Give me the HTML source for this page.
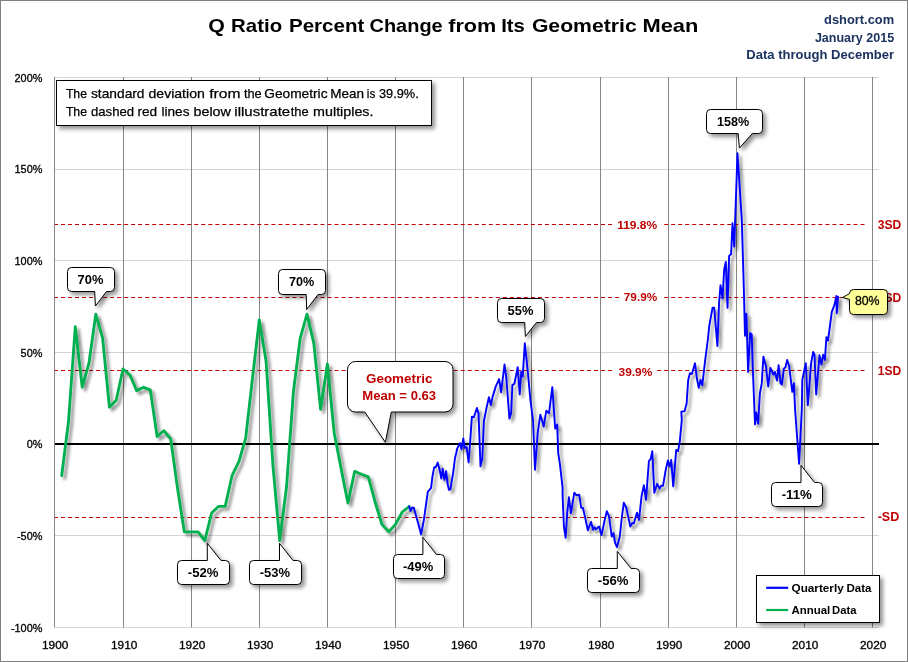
<!DOCTYPE html>
<html lang="en"><head><meta charset="utf-8"><title>Q Ratio Percent Change from Its Geometric Mean</title>
<style>
html,body{margin:0;padding:0;background:#fff;}
body{width:908px;height:662px;overflow:hidden;}
svg{display:block;font-family:"Liberation Sans",Arial,sans-serif;}
.ax{font-size:10.9px;fill:#000;stroke:#000;stroke-width:0.3px;}
.b{font-weight:bold;}
.ttl{font-size:19px;font-weight:bold;fill:#000;}
.src{font-size:12.5px;font-weight:bold;fill:#1b3360;}
.red{fill:#c00000;font-weight:bold;}
.co{font-size:12.5px;font-weight:bold;fill:#000;}
.note{font-size:13px;fill:#000;stroke:#000;stroke-width:0.25px;}
.lg{font-size:11.3px;font-weight:bold;fill:#000;}
</style></head><body>
<svg width="908" height="662" viewBox="0 0 908 662">
<defs>
<filter id="sh" x="-5%" y="-5%" width="115%" height="115%"><feGaussianBlur in="SourceAlpha" stdDeviation="1.5"/><feOffset dx="2.6" dy="2.6"/><feComponentTransfer><feFuncA type="linear" slope="0.45"/></feComponentTransfer><feMerge><feMergeNode/><feMergeNode in="SourceGraphic"/></feMerge></filter>
<filter id="shb" x="-20%" y="-20%" width="150%" height="150%"><feGaussianBlur in="SourceAlpha" stdDeviation="2"/><feOffset dx="2.8" dy="2.8"/><feComponentTransfer><feFuncA type="linear" slope="0.43"/></feComponentTransfer><feMerge><feMergeNode/><feMergeNode in="SourceGraphic"/></feMerge></filter>
</defs>
<rect x="0" y="0" width="908" height="662" fill="#fff"/>
<rect x="0.5" y="0.5" width="907" height="661" fill="none" stroke="#808080" stroke-width="1"/>

<line x1="55" y1="77.5" x2="878.5" y2="77.5" stroke="#d4d4d4" stroke-width="1"/>
<line x1="55" y1="169.5" x2="878.5" y2="169.5" stroke="#d4d4d4" stroke-width="1"/>
<line x1="55" y1="260.5" x2="878.5" y2="260.5" stroke="#d4d4d4" stroke-width="1"/>
<line x1="55" y1="352.5" x2="878.5" y2="352.5" stroke="#d4d4d4" stroke-width="1"/>
<line x1="55" y1="535.5" x2="878.5" y2="535.5" stroke="#d4d4d4" stroke-width="1"/>
<line x1="55" y1="627.5" x2="878.5" y2="627.5" stroke="#d4d4d4" stroke-width="1"/>
<line x1="54.5" y1="77" x2="54.5" y2="627.5" stroke="#868686" stroke-width="1"/>
<line x1="123.5" y1="77" x2="123.5" y2="627.5" stroke="#868686" stroke-width="1"/>
<line x1="191.5" y1="77" x2="191.5" y2="627.5" stroke="#868686" stroke-width="1"/>
<line x1="259.5" y1="77" x2="259.5" y2="627.5" stroke="#868686" stroke-width="1"/>
<line x1="327.5" y1="77" x2="327.5" y2="627.5" stroke="#868686" stroke-width="1"/>
<line x1="395.5" y1="77" x2="395.5" y2="627.5" stroke="#868686" stroke-width="1"/>
<line x1="463.5" y1="77" x2="463.5" y2="627.5" stroke="#868686" stroke-width="1"/>
<line x1="531.5" y1="77" x2="531.5" y2="627.5" stroke="#868686" stroke-width="1"/>
<line x1="600.5" y1="77" x2="600.5" y2="627.5" stroke="#868686" stroke-width="1"/>
<line x1="668.5" y1="77" x2="668.5" y2="627.5" stroke="#868686" stroke-width="1"/>
<line x1="736.5" y1="77" x2="736.5" y2="627.5" stroke="#868686" stroke-width="1"/>
<line x1="804.5" y1="77" x2="804.5" y2="627.5" stroke="#868686" stroke-width="1"/>
<line x1="872.5" y1="77" x2="872.5" y2="627.5" stroke="#868686" stroke-width="1"/>
<line x1="55" y1="444" x2="879" y2="444" stroke="#000" stroke-width="2"/>
<line x1="55" y1="224.5" x2="865" y2="224.5" stroke="#c00000" stroke-width="1" stroke-dasharray="4 3.013" stroke-dashoffset="1"/>
<line x1="55" y1="297.5" x2="865" y2="297.5" stroke="#c00000" stroke-width="1" stroke-dasharray="4 3.013" stroke-dashoffset="1"/>
<line x1="55" y1="370.5" x2="865" y2="370.5" stroke="#c00000" stroke-width="1" stroke-dasharray="4 3.013" stroke-dashoffset="1"/>
<line x1="55" y1="517.5" x2="865" y2="517.5" stroke="#c00000" stroke-width="1" stroke-dasharray="4 3.013" stroke-dashoffset="1"/>
<text x="42.4" y="82.0" text-anchor="end" class="ax">200%</text>
<text x="42.4" y="173.0" text-anchor="end" class="ax">150%</text>
<text x="42.4" y="265.0" text-anchor="end" class="ax">100%</text>
<text x="42.4" y="357.0" text-anchor="end" class="ax">50%</text>
<text x="42.4" y="448.0" text-anchor="end" class="ax">0%</text>
<text x="42.4" y="540.1" text-anchor="end" class="ax">-50%</text>
<text x="42.4" y="632.1" text-anchor="end" class="ax">-100%</text>
<text x="55.2" y="648.8" textLength="26.4" lengthAdjust="spacingAndGlyphs" text-anchor="middle" class="ax">1900</text>
<text x="124.2" y="648.8" textLength="26.4" lengthAdjust="spacingAndGlyphs" text-anchor="middle" class="ax">1910</text>
<text x="192.2" y="648.8" textLength="26.4" lengthAdjust="spacingAndGlyphs" text-anchor="middle" class="ax">1920</text>
<text x="260.2" y="648.8" textLength="26.4" lengthAdjust="spacingAndGlyphs" text-anchor="middle" class="ax">1930</text>
<text x="328.2" y="648.8" textLength="26.4" lengthAdjust="spacingAndGlyphs" text-anchor="middle" class="ax">1940</text>
<text x="396.2" y="648.8" textLength="26.4" lengthAdjust="spacingAndGlyphs" text-anchor="middle" class="ax">1950</text>
<text x="464.2" y="648.8" textLength="26.4" lengthAdjust="spacingAndGlyphs" text-anchor="middle" class="ax">1960</text>
<text x="532.2" y="648.8" textLength="26.4" lengthAdjust="spacingAndGlyphs" text-anchor="middle" class="ax">1970</text>
<text x="601.2" y="648.8" textLength="26.4" lengthAdjust="spacingAndGlyphs" text-anchor="middle" class="ax">1980</text>
<text x="669.2" y="648.8" textLength="26.4" lengthAdjust="spacingAndGlyphs" text-anchor="middle" class="ax">1990</text>
<text x="737.2" y="648.8" textLength="26.4" lengthAdjust="spacingAndGlyphs" text-anchor="middle" class="ax">2000</text>
<text x="805.2" y="648.8" textLength="26.4" lengthAdjust="spacingAndGlyphs" text-anchor="middle" class="ax">2010</text>
<text x="873.2" y="648.8" textLength="26.4" lengthAdjust="spacingAndGlyphs" text-anchor="middle" class="ax">2020</text>
<text y="31.5" class="ttl"><tspan x="208.2" textLength="16.6" lengthAdjust="spacingAndGlyphs">Q</tspan> <tspan x="231.1" textLength="51.0" lengthAdjust="spacingAndGlyphs">Ratio</tspan> <tspan x="289.0" textLength="75.3" lengthAdjust="spacingAndGlyphs">Percent</tspan> <tspan x="369.5" textLength="73.2" lengthAdjust="spacingAndGlyphs">Change</tspan> <tspan x="448.2" textLength="48.1" lengthAdjust="spacingAndGlyphs">from</tspan> <tspan x="501.2" textLength="23.7" lengthAdjust="spacingAndGlyphs">Its</tspan> <tspan x="531.9" textLength="104.8" lengthAdjust="spacingAndGlyphs">Geometric</tspan> <tspan x="642.5" textLength="55.9" lengthAdjust="spacingAndGlyphs">Mean</tspan></text>
<text x="824.1" y="23.6" textLength="70.0" lengthAdjust="spacingAndGlyphs" class="src">dshort.com</text>
<text x="814.9" y="41.9" textLength="79.2" lengthAdjust="spacingAndGlyphs" class="src">January 2015</text>
<text x="746.3" y="59.3" textLength="147.8" lengthAdjust="spacingAndGlyphs" class="src">Data through December</text>
<rect x="613.0" y="217.2" width="48.0" height="14" fill="#fff"/>
<text x="617.2" y="228.8" textLength="40.0" lengthAdjust="spacingAndGlyphs" class="red" font-size="11.5">119.8%</text>
<rect x="620.0" y="290.4" width="41.0" height="14" fill="#fff"/>
<text x="623.8" y="300.8" textLength="33.4" lengthAdjust="spacingAndGlyphs" class="red" font-size="11.5">79.9%</text>
<rect x="613.0" y="363.4" width="43.0" height="14" fill="#fff"/>
<text x="618.5" y="375.7" textLength="33.9" lengthAdjust="spacingAndGlyphs" class="red" font-size="11.5">39.9%</text>
<text x="877.7" y="228.6" textLength="23.5" lengthAdjust="spacingAndGlyphs" class="red" font-size="12.5">3SD</text>
<text x="877.7" y="301.6" textLength="23.5" lengthAdjust="spacingAndGlyphs" class="red" font-size="12.5">2SD</text>
<text x="877.7" y="374.8" textLength="23.5" lengthAdjust="spacingAndGlyphs" class="red" font-size="12.5">1SD</text>
<text x="877.7" y="520.8" textLength="21.6" lengthAdjust="spacingAndGlyphs" class="red" font-size="12.5">-SD</text>
<g filter="url(#shb)"><rect x="56.5" y="80.5" width="375" height="45" fill="#fff" stroke="#000" stroke-width="1"/></g>
<text y="98.0" class="note"><tspan x="65.9" textLength="21.1" lengthAdjust="spacingAndGlyphs">The</tspan> <tspan x="91.0" textLength="53.5" lengthAdjust="spacingAndGlyphs">standard</tspan> <tspan x="148.5" textLength="56.3" lengthAdjust="spacingAndGlyphs">deviation</tspan> <tspan x="209.2" textLength="31.2" lengthAdjust="spacingAndGlyphs">from</tspan> <tspan x="243.9" textLength="17.7" lengthAdjust="spacingAndGlyphs">the</tspan> <tspan x="264.3" textLength="63.2" lengthAdjust="spacingAndGlyphs">Geometric</tspan> <tspan x="330.2" textLength="33.9" lengthAdjust="spacingAndGlyphs">Mean</tspan> <tspan x="366.8" textLength="8.4" lengthAdjust="spacingAndGlyphs">is</tspan> <tspan x="379.0" textLength="39.7" lengthAdjust="spacingAndGlyphs">39.9%.</tspan></text>
<text y="115.6" class="note"><tspan x="65.9" textLength="21.1" lengthAdjust="spacingAndGlyphs">The</tspan> <tspan x="91.0" textLength="43.1" lengthAdjust="spacingAndGlyphs">dashed</tspan> <tspan x="137.4" textLength="19.7" lengthAdjust="spacingAndGlyphs">red</tspan> <tspan x="161.5" textLength="28.0" lengthAdjust="spacingAndGlyphs">lines</tspan> <tspan x="193.5" textLength="37.4" lengthAdjust="spacingAndGlyphs">below</tspan> <tspan x="234.3" textLength="55.9" lengthAdjust="spacingAndGlyphs">illustrate</tspan> <tspan x="290.7" textLength="17.9" lengthAdjust="spacingAndGlyphs">the</tspan> <tspan x="313.1" textLength="60.4" lengthAdjust="spacingAndGlyphs">multiples.</tspan></text>
<g filter="url(#sh)"><path d="M61.7 475.5 L68.5 421.5 L75.3 326.6 L82.2 387.2 L89.0 363.0 L95.8 314.1 L102.6 338.2 L109.4 407.2 L116.2 400.3 L123.0 369.0 L129.8 374.8 L136.7 390.6 L143.5 387.3 L150.3 389.9 L157.1 436.5 L163.9 430.7 L170.7 439.0 L177.5 488.0 L184.3 531.9 L191.2 531.9 L198.0 531.9 L204.8 540.5 L211.6 513.0 L218.4 506.4 L225.2 506.4 L232.0 475.7 L238.9 461.6 L245.7 438.0 L252.5 378.0 L259.3 320.0 L266.1 361.5 L272.9 465.0 L279.7 540.5 L286.5 487.0 L293.4 392.0 L300.2 338.2 L307.0 314.1 L313.8 343.2 L320.6 409.3 L327.4 364.0 L334.2 433.0 L341.0 468.0 L347.9 503.0 L354.7 471.4 L361.5 474.2 L368.3 476.9 L375.1 502.0 L381.9 524.4 L388.7 531.7 L395.5 524.4 L402.4 511.8 L409.2 506.5" fill="none" stroke="#00b050" stroke-width="2.85" stroke-linejoin="round" stroke-linecap="round"/></g>
<g filter="url(#sh)"><path d="M409.2 506.5 L410.5 511.1 L411.8 507.8 L413.8 507.8 L415.8 515.1 L418.5 524.4 L421.1 534.4 L423.8 520.4 L426.4 501.8 L427.8 491.9 L431.1 487.9 L432.4 476.6 L434.2 467.3 L435.7 467.3 L437.7 462.6 L439.7 469.9 L441.3 478.6 L442.7 468.6 L444.4 479.9 L446.1 471.3 L447.7 484.6 L449.0 489.9 L450.4 489.2 L453.0 473.9 L455.0 458.0 L457.0 450.0 L456.6 449.8 L459.9 443.2 L461.5 449.2 L463.3 438.5 L464.6 447.8 L466.6 447.2 L468.6 462.5 L470.3 439.9 L471.9 416.6 L473.9 417.3 L476.9 408.0 L478.5 413.3 L480.5 466.4 L482.3 458.5 L483.9 421.3 L486.5 408.0 L488.9 397.1 L490.8 405.0 L492.5 397.1 L495.8 386.4 L499.1 379.1 L501.1 392.4 L504.5 364.5 L506.4 378.5 L509.4 418.6 L511.1 413.3 L512.4 385.1 L514.4 383.8 L517.7 367.2 L519.7 394.4 L521.3 371.8 L522.7 376.5 L524.8 343.3 L527.7 370.5 L530.4 400.0 L533.0 419.9 L535.0 469.8 L537.7 433.2 L540.3 414.6 L543.7 426.6 L546.3 410.6 L549.0 413.3 L552.3 387.1 L555.2 428.6 L557.2 424.6 L558.2 453.2 L559.9 463.8 L562.6 487.7 L562.6 495.9 L563.9 526.5 L565.6 537.8 L567.2 513.2 L568.9 497.3 L570.9 513.2 L572.5 503.9 L574.3 492.6 L576.5 495.3 L579.2 494.6 L581.2 507.9 L582.9 507.9 L585.1 517.2 L587.8 530.2 L591.1 521.9 L593.1 529.8 L594.5 527.2 L595.8 529.2 L599.1 526.5 L601.5 535.1 L604.4 521.2 L606.8 511.2 L609.1 516.5 L611.7 536.5 L613.5 533.2 L615.0 542.5 L617.0 547.1 L619.7 537.1 L621.7 518.5 L623.8 502.6 L626.3 507.9 L630.3 526.5 L632.1 523.2 L633.9 523.2 L637.0 512.6 L639.0 519.9 L641.6 495.9 L643.9 485.3 L646.0 499.9 L648.9 461.2 L650.6 459.2 L652.3 451.2 L654.3 492.8 L657.2 483.8 L659.5 488.4 L661.2 485.8 L663.0 485.8 L665.6 470.5 L667.9 460.5 L669.6 466.5 L671.2 459.9 L673.2 486.4 L676.2 449.9 L678.1 451.2 L679.8 441.3 L681.8 420.0 L681.3 411.8 L684.6 411.1 L686.6 403.8 L688.2 379.9 L689.9 373.2 L691.9 373.9 L695.0 363.3 L696.9 378.5 L698.8 387.8 L700.5 379.9 L702.3 385.2 L705.2 359.9 L707.8 340.0 L709.2 326.4 L712.5 307.8 L714.2 307.8 L717.4 346.0 L719.1 302.5 L720.5 285.2 L722.5 298.5 L724.2 269.3 L725.8 262.0 L727.5 307.8 L729.1 256.0 L731.1 254.0 L732.5 223.3 L734.2 246.5 L737.5 153.3 L741.8 219.9 L743.8 287.7 L745.0 335.7 L746.4 313.8 L748.1 371.9 L750.1 333.1 L751.7 334.4 L753.0 373.2 L755.0 424.4 L756.3 412.4 L758.1 423.7 L759.9 393.2 L761.7 383.9 L763.4 356.6 L766.0 366.6 L768.2 386.5 L770.4 367.9 L773.3 374.6 L774.9 371.9 L777.0 380.5 L778.6 365.2 L780.6 383.2 L781.9 384.5 L783.9 368.6 L785.5 367.2 L787.2 359.9 L789.2 366.6 L792.3 391.8 L793.9 383.2 L795.1 410.0 L799.1 463.8 L801.8 410.0 L802.3 379.9 L805.8 363.3 L807.8 405.1 L811.2 362.6 L813.2 352.0 L814.5 354.6 L816.2 394.5 L819.5 355.3 L821.4 364.6 L823.1 354.6 L824.9 359.9 L826.4 337.1 L828.0 340.5 L831.8 311.9 L834.4 305.2 L836.4 295.9 L836.8 313.2 L838.1 296.6" fill="none" stroke="#0000ff" stroke-width="1.9" stroke-linejoin="round" stroke-linecap="round"/></g>
<g filter="url(#shb)"><path d="M71.5 267.5 L110.5 267.5 A4 4 0 0 1 114.5 271.5 L114.5 287.5 A4 4 0 0 1 110.5 291.5 L106.5 291.5 L95.4 306.0 L94.7 291.5 L71.5 291.5 A4 4 0 0 1 67.5 287.5 L67.5 271.5 A4 4 0 0 1 71.5 267.5 Z" fill="#fff" stroke="#000" stroke-width="1" stroke-linejoin="miter"/></g>
<text x="77.6" y="284.0" textLength="25.8" lengthAdjust="spacingAndGlyphs" class="co">70%</text>
<g filter="url(#shb)"><path d="M282.5 269.5 L321.5 269.5 A4 4 0 0 1 325.5 273.5 L325.5 290.5 A4 4 0 0 1 321.5 294.5 L318.0 294.5 L306.7 309.5 L306.2 294.5 L282.5 294.5 A4 4 0 0 1 278.5 290.5 L278.5 273.5 A4 4 0 0 1 282.5 269.5 Z" fill="#fff" stroke="#000" stroke-width="1" stroke-linejoin="miter"/></g>
<text x="288.9" y="285.9" textLength="25.3" lengthAdjust="spacingAndGlyphs" class="co">70%</text>
<g filter="url(#shb)"><path d="M501.5 298.5 L540.5 298.5 A4 4 0 0 1 544.5 302.5 L544.5 318.5 A4 4 0 0 1 540.5 322.5 L536.5 322.5 L525.4 336.5 L524.7 322.5 L501.5 322.5 A4 4 0 0 1 497.5 318.5 L497.5 302.5 A4 4 0 0 1 501.5 298.5 Z" fill="#fff" stroke="#000" stroke-width="1" stroke-linejoin="miter"/></g>
<text x="507.6" y="314.5" textLength="25.8" lengthAdjust="spacingAndGlyphs" class="co">55%</text>
<g filter="url(#shb)"><path d="M710.5 109.5 L758.5 109.5 A4 4 0 0 1 762.5 113.5 L762.5 129.5 A4 4 0 0 1 758.5 133.5 L752.4 133.5 L739.4 148.1 L738.2 133.5 L710.5 133.5 A4 4 0 0 1 706.5 129.5 L706.5 113.5 A4 4 0 0 1 710.5 109.5 Z" fill="#fff" stroke="#000" stroke-width="1" stroke-linejoin="miter"/></g>
<text x="717.0" y="126.0" textLength="32.2" lengthAdjust="spacingAndGlyphs" class="co">158%</text>
<g filter="url(#shb)"><path d="M181.5 560.5 L207.3 560.5 L207.3 543.3 L221.0 560.5 L225.5 560.5 A4 4 0 0 1 229.5 564.5 L229.5 580.5 A4 4 0 0 1 225.5 584.5 L181.5 584.5 A4 4 0 0 1 177.5 580.5 L177.5 564.5 A4 4 0 0 1 181.5 560.5 Z" fill="#fff" stroke="#000" stroke-width="1" stroke-linejoin="miter"/></g>
<text x="187.8" y="576.5" textLength="30.7" lengthAdjust="spacingAndGlyphs" class="co">-52%</text>
<g filter="url(#shb)"><path d="M253.5 560.5 L279.5 560.5 L279.5 543.3 L293.0 560.5 L297.5 560.5 A4 4 0 0 1 301.5 564.5 L301.5 580.5 A4 4 0 0 1 297.5 584.5 L253.5 584.5 A4 4 0 0 1 249.5 580.5 L249.5 564.5 A4 4 0 0 1 253.5 560.5 Z" fill="#fff" stroke="#000" stroke-width="1" stroke-linejoin="miter"/></g>
<text x="259.7" y="576.5" textLength="30.3" lengthAdjust="spacingAndGlyphs" class="co">-53%</text>
<g filter="url(#shb)"><path d="M397.5 554.5 L422.9 554.5 L422.9 537.3 L436.4 554.5 L440.5 554.5 A4 4 0 0 1 444.5 558.5 L444.5 574.5 A4 4 0 0 1 440.5 578.5 L397.5 578.5 A4 4 0 0 1 393.5 574.5 L393.5 558.5 A4 4 0 0 1 397.5 554.5 Z" fill="#fff" stroke="#000" stroke-width="1" stroke-linejoin="miter"/></g>
<text x="403.0" y="570.6" textLength="30.2" lengthAdjust="spacingAndGlyphs" class="co">-49%</text>
<g filter="url(#shb)"><path d="M591.5 568.5 L617.3 568.5 L617.3 551.3 L631.0 568.5 L635.5 568.5 A4 4 0 0 1 639.5 572.5 L639.5 588.5 A4 4 0 0 1 635.5 592.5 L591.5 592.5 A4 4 0 0 1 587.5 588.5 L587.5 572.5 A4 4 0 0 1 591.5 568.5 Z" fill="#fff" stroke="#000" stroke-width="1" stroke-linejoin="miter"/></g>
<text x="597.8" y="584.7" textLength="30.7" lengthAdjust="spacingAndGlyphs" class="co">-56%</text>
<g filter="url(#shb)"><path d="M775.5 482.5 L801.0 482.5 L801.0 465.3 L814.5 482.5 L818.5 482.5 A4 4 0 0 1 822.5 486.5 L822.5 502.5 A4 4 0 0 1 818.5 506.5 L775.5 506.5 A4 4 0 0 1 771.5 502.5 L771.5 486.5 A4 4 0 0 1 775.5 482.5 Z" fill="#fff" stroke="#000" stroke-width="1" stroke-linejoin="miter"/></g>
<text x="781.7" y="498.7" textLength="30.2" lengthAdjust="spacingAndGlyphs" class="co">-11%</text>
<g filter="url(#shb)"><path d="M853.5 289.5 L883.5 289.5 A4 4 0 0 1 887.5 293.5 L887.5 310.5 A4 4 0 0 1 883.5 314.5 L853.5 314.5 A4 4 0 0 1 849.5 310.5 L849.5 299.4 L842.5 297.5 L849.5 293.6 L849.5 293.5 A4 4 0 0 1 853.5 289.5 Z" fill="#ffff99" stroke="#000" stroke-width="1" stroke-linejoin="miter"/></g>
<text x="854.9" y="305.4" textLength="24.7" lengthAdjust="spacingAndGlyphs" class="co" style="font-weight:normal;stroke:#000;stroke-width:0.3px">80%</text>
<g filter="url(#shb)"><path d="M355.5 361.5 L445.0 361.5 A8 8 0 0 1 453.0 369.5 L453.0 404.0 A8 8 0 0 1 445.0 412.0 L391.3 412.0 L385.4 442.3 L364.8 412.0 L355.5 412.0 A8 8 0 0 1 347.5 404.0 L347.5 369.5 A8 8 0 0 1 355.5 361.5 Z" fill="#fff" stroke="#000" stroke-width="1"/></g>
<text x="366.0" y="382.5" textLength="66.4" lengthAdjust="spacingAndGlyphs" class="red" font-size="12.5">Geometric</text>
<text x="362.3" y="400.4" textLength="73.8" lengthAdjust="spacingAndGlyphs" class="red" font-size="12.5">Mean = 0.63</text>
<g filter="url(#shb)"><rect x="756.5" y="575.5" width="123" height="47" fill="#fff" stroke="#000" stroke-width="1"/></g>
<line x1="766.2" y1="587.8" x2="788.2" y2="587.8" stroke="#0000ff" stroke-width="2.2"/>
<line x1="766.2" y1="610" x2="788.2" y2="610" stroke="#00b050" stroke-width="2.2"/>
<text y="591.5" class="lg"><tspan x="791.5" textLength="52.2" lengthAdjust="spacingAndGlyphs">Quarterly</tspan> <tspan x="846.4" textLength="25.0" lengthAdjust="spacingAndGlyphs">Data</tspan></text>
<text y="613.6" class="lg"><tspan x="791.5" textLength="38.8" lengthAdjust="spacingAndGlyphs">Annual</tspan> <tspan x="832.1" textLength="24.4" lengthAdjust="spacingAndGlyphs">Data</tspan></text>
</svg></body></html>
